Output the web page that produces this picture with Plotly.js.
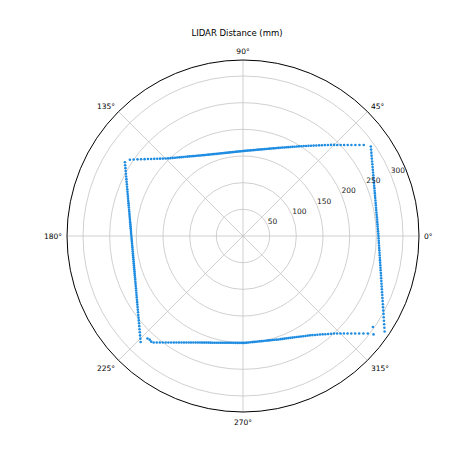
<!DOCTYPE html>
<html>
<head>
<meta charset="utf-8">
<script src="https://cdn.plot.ly/plotly-3.0.1.min.js"></script>
<style>html,body{margin:0;padding:0;background:#fff;}#chart{width:474px;height:474px;}</style>
</head>
<body>
<div id="chart"></div>
<script>
// LIDAR scan: angle (degrees) and measured distance (mm)
const rightWallUpperAngles = [0,1,2,3,4,5,6,7,8,9,10,11,12,13,14,15,16,17,18,19,20,21,22,23,24,25,26,27,28,29,30,31,32,33,34,35];
const rightWallUpperDist = [254.0,253.7,253.4,253.2,253.1,253.1,253.1,253.3,253.5,253.7,254.1,254.5,255.1,255.7,256.3,257.1,257.9,258.9,259.9,261.0,262.2,263.4,264.8,266.3,267.8,269.5,271.3,273.2,275.2,277.3,279.5,281.8,284.3,286.9,289.7,292.6];

const topWallAngles = [37,38,39,40,41,42,43,44,45,46,47,48,49,50,51,52,53,54,55,56,57,58,59,60,61,62,63,64,65,66,67,68,69,70,71,72,73,74,75,76,77,78,79,80,81,82,83,84,85,86,87,88,89,90,91,92,93,94,95,96,97,98,99,100,101,102,103,104,105,106,107,108,109,110,111,112,113,114,115,116,117,118,119,120,121,122,123,124,125,126,127,128,129,130,131,132,133,134,135,136,137,138,139,140,141,142,143,144,145,146];
const topWallDist = [283.5,277.1,271.1,265.4,260.2,255.1,250.3,245.7,241.5,237.5,233.4,229.4,225.5,221.9,218.4,215.1,211.9,208.9,206.1,203.4,200.7,198.2,195.7,193.3,191.1,189.0,187.0,185.0,183.2,181.5,179.8,178.2,176.7,175.2,173.8,172.5,171.3,170.1,169.0,167.9,167.0,166.0,165.2,164.4,163.6,162.9,162.3,161.7,161.2,160.7,160.3,159.9,159.6,159.3,159.0,158.8,158.7,158.5,158.5,158.4,158.5,158.5,158.7,158.8,159.1,159.3,159.6,160.0,160.4,160.9,161.4,162.0,162.7,163.3,164.1,164.9,165.7,166.7,167.6,168.7,169.8,171.1,172.4,173.7,175.1,176.7,178.3,180.0,181.7,183.6,185.6,187.6,189.8,192.1,194.5,197.0,199.6,202.4,205.4,208.9,212.6,216.4,220.5,224.8,229.3,234.1,239.2,244.5,250.2,255.8];

const leftWallAngles = [148,149,150,151,152,153,154,155,156,157,158,159,160,161,162,163,164,165,166,167,168,169,170,171,172,173,174,175,176,177,178,179,180,181,182,183,184,185,186,187,188,189,190,191,192,193,194,195,196,197,198,199,200,201,202,203,204,205,206,207,208,209,210,211,212,213,214,215,216,217,218,219,220,221,222,223,224,225,226,227,228,229];
const leftWallDist = [261.1,257.7,254.5,251.5,248.6,245.9,243.2,240.8,238.4,236.2,234.0,232.0,230.1,228.2,226.5,224.9,223.3,221.9,220.5,219.2,218.0,216.9,215.9,214.9,214.0,213.2,212.4,211.7,211.1,210.5,210.1,209.7,209.3,209.0,208.8,208.6,208.5,208.5,208.5,208.6,208.8,209.0,209.3,209.7,210.1,210.5,211.1,211.7,212.4,213.2,214.0,214.9,215.9,216.9,218.0,219.2,220.5,221.9,223.3,224.9,226.5,228.2,230.1,232.0,234.0,236.2,238.4,240.8,243.2,245.9,248.6,251.5,254.5,257.7,261.1,264.6,268.3,272.2,276.3,262.7,261.5,262.5];

const bottomWallAngles = [230,231,232,233,234,235,236,237,238,239,240,241,242,243,244,245,246,247,248,249,250,251,252,253,254,255,256,257,258,259,260,261,262,263,264,265,266,267,268,269,270,271,272,273,274,275,276,277,278,279,280,281,282,283,284,285,286,287,288,289,290,291,292,293,294,295,296,297,298,299,300,301,302,303,304,305,306,307,308,309,310,311,312,313,314,315,316,317,318,319,320,321,322,323,325];
const bottomWallDist = [260.6,257.0,253.4,250.1,246.8,243.8,240.9,238.1,235.5,233.0,230.6,228.3,226.2,224.1,222.2,220.4,218.6,217.0,215.4,214.1,212.7,211.4,210.2,209.1,208.1,207.1,206.2,205.4,204.6,204.0,203.3,202.7,202.2,201.8,201.4,201.1,200.8,200.7,200.5,200.4,200.4,200.4,200.1,199.9,199.8,199.7,199.7,199.7,199.8,200.0,200.2,200.5,200.9,201.3,201.7,202.3,202.9,203.5,204.3,205.1,205.8,206.7,207.6,208.5,209.6,210.7,211.9,213.2,214.6,216.1,217.6,219.2,221.0,222.7,224.7,226.8,229.3,231.8,234.5,237.3,240.3,243.4,246.7,250.1,254.1,258.5,263.1,268.0,273.2,278.6,284.4,290.5,296.9,306.5,297.4];

const rightWallLowerAngles = [326,327,328,329,330,331,332,333,334,335,336,337,338,339,340,341,342,343,344,345,346,347,348,349,350,351,352,353,354,355,356,357,358,359];
const rightWallLowerDist = [320.3,316.1,312.1,308.3,304.6,301.2,297.9,294.7,291.8,288.9,286.2,283.7,281.2,278.9,276.8,274.7,272.7,270.9,269.2,267.6,266.0,264.6,263.2,262.0,260.8,259.8,258.8,257.9,257.1,256.3,255.7,255.1,254.7,254.3];

const radialTicks = [50, 100, 150, 200, 250, 300];
const radialTickLabels = ['50', '100', '150', '200', '250', '300'];
const radialLabelAngle = 22.5;
const angularTicks = [0, 45, 90, 135, 180, 225, 270, 315];
const angularTickLabels = ['0°', '45°', '90°', '135°', '180°', '225°', '270°', '315°'];
const chartTitle = 'LIDAR Distance (mm)';

const theta = [].concat(rightWallUpperAngles, topWallAngles, leftWallAngles, bottomWallAngles, rightWallLowerAngles);
const r = [].concat(rightWallUpperDist, topWallDist, leftWallDist, bottomWallDist, rightWallLowerDist);

const W = 474, H = 474;
const FONT = 'DejaVu Sans, sans-serif';

const scan = {
  type: 'scatterpolar',
  mode: 'markers',
  theta: theta,
  r: r,
  marker: {size: 2.6, color: 'rgb(30,140,225)', line: {width: 0}},
  hoverinfo: 'skip'
};

// radial tick labels placed along the label angle, like matplotlib's rlabel position
const radialLabels = {
  type: 'scatterpolar',
  mode: 'text',
  theta: radialTicks.map(() => radialLabelAngle),
  r: radialTicks,
  text: radialTickLabels,
  textposition: 'top right',
  textfont: {family: FONT, size: 7.5, color: '#222222'},
  hoverinfo: 'skip',
  cliponaxis: false
};

const layout = {
  width: W, height: H,
  margin: {l: 0, r: 0, t: 0, b: 0},
  paper_bgcolor: '#ffffff',
  showlegend: false,
  font: {family: FONT, color: '#000000', size: 7.5},
  title: {
    text: chartTitle,
    x: 0.5, xanchor: 'center',
    y: 1 - 33 / H, yanchor: 'middle',
    font: {family: FONT, size: 8.5, color: '#000000'}
  },
  polar: {
    domain: {x: [67 / W, 419 / W], y: [62 / H, 414 / H]},
    bgcolor: '#ffffff',
    radialaxis: {
      range: [0, 330],
      tickvals: radialTicks,
      showticklabels: false,
      angle: radialLabelAngle,
      showline: false,
      ticks: '',
      gridcolor: '#c4c4c4',
      gridwidth: 0.8
    },
    angularaxis: {
      rotation: 0,
      direction: 'counterclockwise',
      tickvals: angularTicks,
      ticktext: angularTickLabels,
      showline: true,
      linecolor: '#000000',
      linewidth: 1,
      ticks: 'outside',
      ticklen: 3,
      tickcolor: 'rgba(0,0,0,0)',
      gridcolor: '#c4c4c4',
      gridwidth: 0.8,
      tickfont: {family: FONT, size: 7.5, color: '#000000'}
    }
  }
};

Plotly.newPlot('chart', [scan, radialLabels], layout, {staticPlot: true, displayModeBar: false});
</script>
</body>
</html>
